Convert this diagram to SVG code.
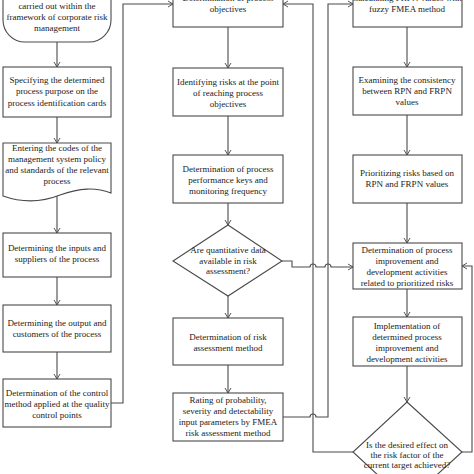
<svg xmlns="http://www.w3.org/2000/svg" width="474" height="474" viewBox="0 0 474 474">
<defs>
<marker id="arr" markerWidth="8" markerHeight="8" refX="6" refY="4" orient="auto" markerUnits="userSpaceOnUse">
<path d="M1,1 L6,4 L1,7" fill="none" stroke="#444" stroke-width="0.9"/>
</marker>
<style>
.b{fill:#fff;stroke:#4a4a4a;stroke-width:1.1}
.c{fill:none;stroke:#4a4a4a;stroke-width:1.1}
text{font-family:"Liberation Serif","Times New Roman",serif;font-size:9px;fill:#222;text-anchor:middle}
</style>
</defs>
<rect width="474" height="474" fill="#fff"/>
<g id="connectors">
<path class="c" d="M57,42 V67" marker-end="url(#arr)"/>
<path class="c" d="M57,117 V143" marker-end="url(#arr)"/>
<path class="c" d="M57,196 V233" marker-end="url(#arr)"/>
<path class="c" d="M57,277 V305" marker-end="url(#arr)"/>
<path class="c" d="M57,352 V379" marker-end="url(#arr)"/>
<path class="c" d="M111,403 H123 V4 H173" marker-end="url(#arr)"/>
<path class="c" d="M228,27 V68" marker-end="url(#arr)"/>
<path class="c" d="M228,116 V155" marker-end="url(#arr)"/>
<path class="c" d="M228,203 V225" marker-end="url(#arr)"/>
<path class="c" d="M228,296 V318" marker-end="url(#arr)"/>
<path class="c" d="M228,365 V393" marker-end="url(#arr)"/>
<path class="c" d="M282,261 H292 V267 H310 A3,3 0 0 1 316,267 H325 A3,3 0 0 1 331,267 H353" marker-end="url(#arr)"/>
<path class="c" d="M283,417 H310 A3,3 0 0 1 316,417 H328 V4 H353" marker-end="url(#arr)"/>
<path class="c" d="M353,452 H313 V4 H283" marker-end="url(#arr)"/>
<path class="c" d="M407,27 V67" marker-end="url(#arr)"/>
<path class="c" d="M407,115 V155" marker-end="url(#arr)"/>
<path class="c" d="M407,203 V243" marker-end="url(#arr)"/>
<path class="c" d="M407,289 V317" marker-end="url(#arr)"/>
<path class="c" d="M407,366 V402" marker-end="url(#arr)"/>
<path class="c" d="M462,452 H472 V266 H462" marker-end="url(#arr)"/>
</g>
<g id="n1">
<rect class="b" x="3" y="-40" width="108" height="82" rx="22"/>
<text x="57" y="9">carried out within the</text>
<text x="57" y="20">framework of corporate risk</text>
<text x="57" y="31">management</text>
</g>
<g id="n2">
<rect class="b" x="3" y="67" width="108" height="50"/>
<text x="57" y="83">Specifying the determined</text>
<text x="57" y="94">process purpose on the</text>
<text x="57" y="106">process identification cards</text>
</g>
<g id="n3">
<path class="b" d="M3,143 H111 V193 C95,187 80,188 60,195 C40,203 20,202 3,196 Z"/>
<text x="57" y="151">Entering the codes of the</text>
<text x="57" y="162">management system policy</text>
<text x="57" y="173">and standards of the relevant</text>
<text x="57" y="184">process</text>
</g>
<g id="n4">
<rect class="b" x="3" y="233" width="108" height="44"/>
<text x="57" y="251">Determining the inputs and</text>
<text x="57" y="262">suppliers of the process</text>
</g>
<g id="n5">
<rect class="b" x="3" y="305" width="108" height="47"/>
<text x="57" y="326">Determining the output and</text>
<text x="57" y="337">customers of the process</text>
</g>
<g id="n6">
<rect class="b" x="3" y="379" width="108" height="48"/>
<text x="57" y="396">Determination of the control</text>
<text x="57" y="407">method applied at the quality</text>
<text x="57" y="418">control points</text>
</g>
<g id="n7">
<rect class="b" x="173" y="-20" width="110" height="47"/>
<text x="228" y="1">Determination of process</text>
<text x="228" y="12">objectives</text>
</g>
<g id="n8">
<rect class="b" x="173" y="68" width="110" height="48"/>
<text x="228" y="85">Identifying risks at the point</text>
<text x="228" y="96">of reaching process</text>
<text x="228" y="107">objectives</text>
</g>
<g id="n9">
<rect class="b" x="173" y="155" width="110" height="48"/>
<text x="228" y="172">Determination of process</text>
<text x="228" y="183">performance keys  and</text>
<text x="228" y="194">monitoring frequency</text>
</g>
<g id="n10">
<path class="b" d="M228,225 L282,261 L228,296 L173,261 Z"/>
<text x="228" y="253">Are quantitative data</text>
<text x="228" y="264">available in risk</text>
<text x="228" y="274">assessment?</text>
</g>
<g id="n11">
<rect class="b" x="173" y="318" width="110" height="47"/>
<text x="228" y="340">Determination of risk</text>
<text x="228" y="351">assessment method</text>
</g>
<g id="n12">
<rect class="b" x="173" y="393" width="110" height="48"/>
<text x="228" y="403">Rating of probability,</text>
<text x="228" y="414">severity and detectability</text>
<text x="228" y="425">input parameters by FMEA</text>
<text x="228" y="436">risk assessment method</text>
</g>
<g id="n13">
<rect class="b" x="353" y="-20" width="109" height="47"/>
<text x="407" y="1">Calculating FRPN values with</text>
<text x="407" y="12">fuzzy FMEA method</text>
</g>
<g id="n14">
<rect class="b" x="353" y="67" width="109" height="48"/>
<text x="407" y="83">Examining the consistency</text>
<text x="407" y="94">between RPN and FRPN</text>
<text x="407" y="105">values</text>
</g>
<g id="n15">
<rect class="b" x="353" y="155" width="109" height="48"/>
<text x="407" y="176">Prioritizing risks based on</text>
<text x="407" y="187">RPN and FRPN values</text>
</g>
<g id="n16">
<rect class="b" x="353" y="243" width="109" height="46"/>
<text x="407" y="253">Determination of process</text>
<text x="407" y="264">improvement and</text>
<text x="407" y="275">development activities</text>
<text x="407" y="286">related to prioritized risks</text>
</g>
<g id="n17">
<rect class="b" x="353" y="317" width="109" height="49"/>
<text x="407" y="329">Implementation of</text>
<text x="407" y="340">determined process</text>
<text x="407" y="351">improvement and</text>
<text x="407" y="362">development activities</text>
</g>
<g id="n18">
<path class="b" d="M407,402 L462,452 L407,502 L353,452 Z"/>
<text x="407" y="448">Is the desired effect on</text>
<text x="407" y="458">the risk factor of the</text>
<text x="407" y="468">current target achieved?</text>
</g>
</svg>
